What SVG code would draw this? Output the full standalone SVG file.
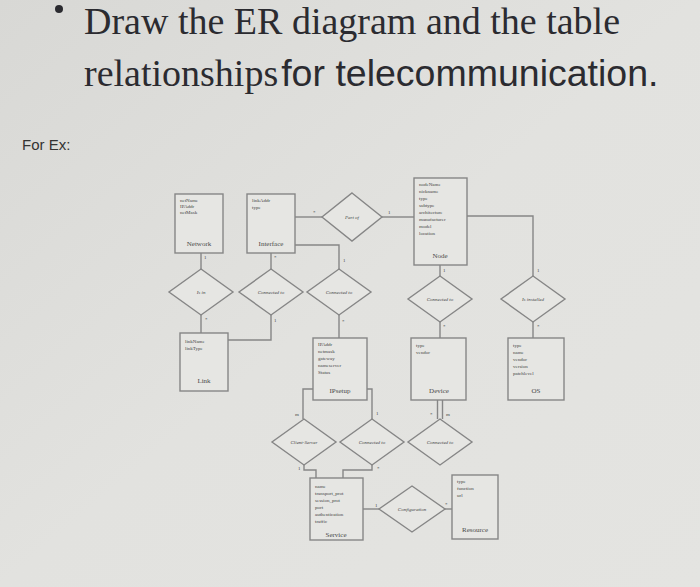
<svg xmlns="http://www.w3.org/2000/svg" width="700" height="587" viewBox="0 0 700 587">
<defs>
<linearGradient id="bg" x1="0" y1="0" x2="1" y2="1">
<stop offset="0" stop-color="#d8d8d5"/>
<stop offset="0.5" stop-color="#e2e2df"/>
<stop offset="1" stop-color="#e4e4e1"/>
</linearGradient>
</defs>
<style>
.ent rect{fill:#e6e6e3;stroke:#868686;stroke-width:1.4}
.rel polygon{fill:#e6e6e3;stroke:#868686;stroke-width:1.4}
.att{font-family:"Liberation Serif",serif;font-size:5px;fill:#444}
.lbl{font-family:"Liberation Serif",serif;font-size:7px;fill:#4a4a4a;text-anchor:middle}
.rn{font-family:"Liberation Serif",serif;font-size:5px;font-style:italic;fill:#444;text-anchor:middle}
.card{font-family:"Liberation Serif",serif;font-size:5px;fill:#444}
#connectors path{fill:none;stroke:#868686;stroke-width:1.4}
.title{font-family:"Liberation Serif",serif;font-size:38px;fill:#2b2b30}
.sans{font-family:"Liberation Sans",sans-serif}
</style>
<rect x="0" y="0" width="700" height="587" fill="url(#bg)"/>

<g id="title">
<circle cx="59" cy="9" r="4" fill="#2b2b30"/>
<text class="title" x="84" y="34" font-size="37.5">Draw the ER diagram and the table</text>
<text class="title" x="84" y="86">relationships<tspan class="sans" font-size="37.5" dx="3">for telecommunication.</tspan></text>
<text x="22" y="150" font-family="Liberation Sans, sans-serif" font-size="15" fill="#333">For Ex:</text>
</g>

<g id="connectors">
<path d="M201,253 V269"/>
<path d="M201,315 V333"/>
<path d="M271,253 V269"/>
<path d="M271,315 V340 H228"/>
<path d="M295,245 H339 V269"/>
<path d="M339,315 V338"/>
<path d="M295,217 H322"/>
<path d="M382,217 H414"/>
<path d="M467,216 H533 V276"/>
<path d="M440,265 V276"/>
<path d="M440,322 V338"/>
<path d="M533,322 V338"/>
<path d="M437.5,400 V419"/>
<path d="M442.5,400 V419"/>
<path d="M313,389 H303 V419"/>
<path d="M367,389 H372 V419"/>
<path d="M304,465 V470 H316 V478"/>
<path d="M372,465 V470 H343 V478"/>
<path d="M363,509 H379"/>
<path d="M445,509 H452"/>
<text class="card" x="204" y="259">1</text>
<text class="card" x="205" y="321">*</text>
<text class="card" x="274" y="259">*</text>
<text class="card" x="274" y="322">1</text>
<text class="card" x="343" y="262">1</text>
<text class="card" x="342" y="323">*</text>
<text class="card" x="313" y="214">*</text>
<text class="card" x="388" y="214">1</text>
<text class="card" x="537" y="272">1</text>
<text class="card" x="443" y="272">1</text>
<text class="card" x="443" y="328">*</text>
<text class="card" x="537" y="328">*</text>
<text class="card" x="430" y="416">*</text>
<text class="card" x="446" y="416">m</text>
<text class="card" x="295" y="416">m</text>
<text class="card" x="376" y="415">1</text>
<text class="card" x="298" y="470">1</text>
<text class="card" x="377" y="470">*</text>
<text class="card" x="375" y="507">1</text>
<text class="card" x="445" y="506">*</text>
</g>

<g id="network" class="ent">
<rect x="175" y="194" width="48" height="59"/>
<text class="att" x="180" y="202">netName</text>
<text class="att" x="180" y="208">IPAddr</text>
<text class="att" x="180" y="214">netMask</text>
<text class="lbl" x="199" y="246">Network</text>
</g>
<g id="interface" class="ent">
<rect x="247" y="194" width="48" height="59"/>
<text class="att" x="252" y="202">linkAddr</text>
<text class="att" x="252" y="209">type</text>
<text class="lbl" x="271" y="246">Interface</text>
</g>
<g id="node" class="ent">
<rect x="414" y="178" width="53" height="87"/>
<text class="att" x="419" y="186">nodeName</text>
<text class="att" x="419" y="193">nickname</text>
<text class="att" x="419" y="200">type</text>
<text class="att" x="419" y="207">subtype</text>
<text class="att" x="419" y="214">architecture</text>
<text class="att" x="419" y="221">manufacturer</text>
<text class="att" x="419" y="228">model</text>
<text class="att" x="419" y="235">location</text>
<text class="lbl" x="440" y="258">Node</text>
</g>
<g id="link" class="ent">
<rect x="180" y="333" width="48" height="58"/>
<text class="att" x="185" y="343">linkName</text>
<text class="att" x="185" y="350">linkType</text>
<text class="lbl" x="204" y="383">Link</text>
</g>
<g id="ipsetup" class="ent">
<rect x="313" y="338" width="54" height="62"/>
<text class="att" x="318" y="346">IPAddr</text>
<text class="att" x="318" y="353">netmask</text>
<text class="att" x="318" y="360">gateway</text>
<text class="att" x="318" y="367">nameserver</text>
<text class="att" x="318" y="374">Status</text>
<text class="lbl" x="340" y="393">IPsetup</text>
</g>
<g id="device" class="ent">
<rect x="411" y="338" width="55" height="62"/>
<text class="att" x="416" y="347">type</text>
<text class="att" x="416" y="354">vendor</text>
<text class="lbl" x="439" y="393">Device</text>
</g>
<g id="os" class="ent">
<rect x="508" y="338" width="56" height="62"/>
<text class="att" x="513" y="347">type</text>
<text class="att" x="513" y="354">name</text>
<text class="att" x="513" y="361">vendor</text>
<text class="att" x="513" y="368">version</text>
<text class="att" x="513" y="375">patchlevel</text>
<text class="lbl" x="536" y="393">OS</text>
</g>
<g id="service" class="ent">
<rect x="310" y="478" width="53" height="62"/>
<text class="att" x="315" y="488">name</text>
<text class="att" x="315" y="495">transport_prot</text>
<text class="att" x="315" y="502">session_prot</text>
<text class="att" x="315" y="509">port</text>
<text class="att" x="315" y="516">authentication</text>
<text class="att" x="315" y="523">traffic</text>
<text class="lbl" x="336" y="537">Service</text>
</g>
<g id="resource" class="ent">
<rect x="452" y="475" width="46" height="64"/>
<text class="att" x="457" y="483">type</text>
<text class="att" x="457" y="490">function</text>
<text class="att" x="457" y="497">url</text>
<text class="lbl" x="475" y="532">Resource</text>
</g>

<g id="is-in" class="rel">
<polygon points="201,269 233,292 201,315 169,292"/>
<text class="rn" x="201" y="294">Is in</text>
</g>
<g id="connected-to-1" class="rel">
<polygon points="271,269 303,292 271,315 239,292"/>
<text class="rn" x="271" y="294">Connected to</text>
</g>
<g id="connected-to-2" class="rel">
<polygon points="339,269 371,292 339,315 307,292"/>
<text class="rn" x="339" y="294">Connected to</text>
</g>
<g id="part-of" class="rel">
<polygon points="352,193 382,217 352,241 322,217"/>
<text class="rn" x="352" y="219">Part of</text>
</g>
<g id="connected-to-3" class="rel">
<polygon points="440,276 472,299 440,322 408,299"/>
<text class="rn" x="440" y="301">Connected to</text>
</g>
<g id="is-installed" class="rel">
<polygon points="533,276 565,299 533,322 501,299"/>
<text class="rn" x="533" y="301">Is installed</text>
</g>
<g id="client-server" class="rel">
<polygon points="304,419 336,442 304,465 272,442"/>
<text class="rn" x="304" y="444">Client-Server</text>
</g>
<g id="connected-to-4" class="rel">
<polygon points="372,419 404,442 372,465 340,442"/>
<text class="rn" x="372" y="444">Connected to</text>
</g>
<g id="connected-to-5" class="rel">
<polygon points="440,419 472,442 440,465 408,442"/>
<text class="rn" x="440" y="444">Connected to</text>
</g>
<g id="configuration" class="rel">
<polygon points="412,486 445,509 412,532 379,509"/>
<text class="rn" x="412" y="511">Configuration</text>
</g>
</svg>
